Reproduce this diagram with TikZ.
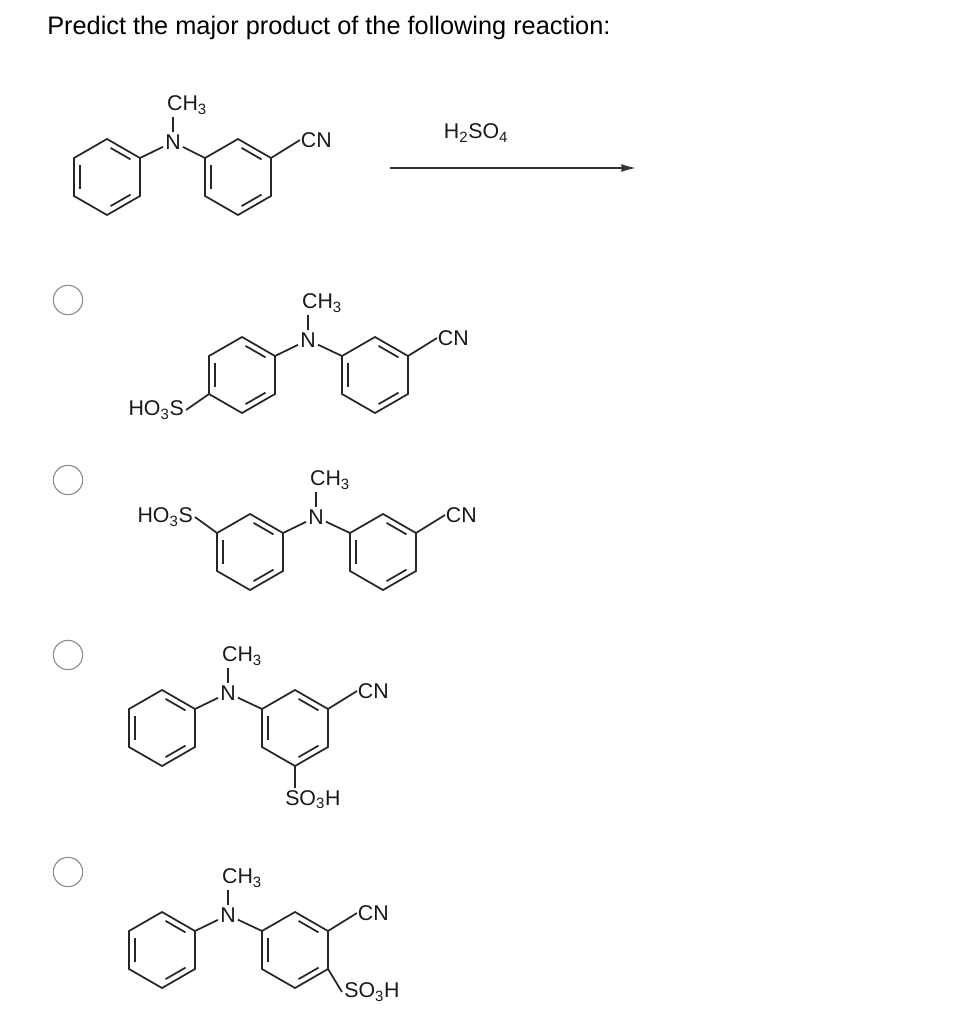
\documentclass[tikz,border=0pt]{standalone}
\usepackage{fontspec}
\setmainfont{Liberation Sans}
\usetikzlibrary{calc,arrows.meta}
\tikzset{
  bond/.style={draw=black!85,line width=1.3pt},
  lbl/.style={font=\fontsize{16}{18}\selectfont,inner sep=1.5pt,text=black!90},
  opt/.style={draw=black!45,line width=0.8pt,fill=white}
}
\newcommand{\sub}[1]{\textsubscript{#1}}
\newcommand{\benz}[3]{%
  \coordinate (#1c) at (#2,#3);
  \coordinate (#1t) at (#2,#3-38);
  \coordinate (#1ur) at (#2+33,#3-19);
  \coordinate (#1lr) at (#2+33,#3+19);
  \coordinate (#1b) at (#2,#3+38);
  \coordinate (#1ll) at (#2-33,#3+19);
  \coordinate (#1ul) at (#2-33,#3-19);
  \draw[bond] (#1t)--(#1ur)--(#1lr)--(#1b)--(#1ll)--(#1ul)--cycle;
  \foreach \p/\q in {t/ur,lr/b,ll/ul}{
    \draw[bond] ($ ($(#1c)!0.82!(#1\p)$)!0.13!($(#1c)!0.82!(#1\q)$) $) -- ($ ($(#1c)!0.82!(#1\q)$)!0.13!($(#1c)!0.82!(#1\p)$) $);}
}
\newcommand{\core}[4]{%
  \benz{#1a}{#2}{#3}
  \benz{#1b}{#4}{#3}
  \node[lbl] (#1N) at (#2+66,#3-35) {N};
  \node[lbl] (#1Me) at (#2+80,#3-72) {CH\sub{3}};
  \node[lbl,anchor=west,inner sep=0.5pt] (#1CN) at (#4+62,#3-37) {CN};
  \draw[bond] (#1aur) -- (#1N);
  \draw[bond] (#1N) -- (#1bul);
  \draw[bond] (#1N.north) -- (#1N.north |- #1Me.south);
  \draw[bond] (#1bur) -- (#1CN.west);
}
\begin{document}
\begin{tikzpicture}[x=0.75pt,y=-0.75pt]
\useasboundingbox (0,0) rectangle (960,1024);
\node[anchor=west,font=\fontsize{19}{22}\selectfont,inner sep=0] (title) at (47,28) {Predict the major product of the following reaction:};
\core{r}{107}{177}{238}
\coordinate (as) at (390,168); \coordinate (ae) at (636,168);
\draw[black!80,line width=1.3pt,-{Latex[length=11pt,width=6pt]}] (as) -- (ae);
\node[lbl] (h2so4) at (476,133) {H\sub{2}SO\sub{4}};
\node[opt,circle,minimum size=22pt,inner sep=0] (o1) at (68,300) {};
\node[opt,circle,minimum size=22pt,inner sep=0] (o2) at (68,480) {};
\node[opt,circle,minimum size=22pt,inner sep=0] (o3) at (68,655) {};
\node[opt,circle,minimum size=22pt,inner sep=0] (o4) at (68,872) {};
% option 1
\core{p}{242}{375}{375}
\node[lbl,anchor=east] (pS) at (186,410) {HO\sub{3}S};
\draw[bond] (pall) -- (pS.east);
% option 2
\core{q}{250}{552}{383}
\node[lbl,anchor=east] (qS) at (195,517) {HO\sub{3}S};
\draw[bond] (qaul) -- (qS.east);
% option 3
\core{s}{162}{728}{295}
\node[lbl,anchor=north west] (sS) at (283,788) {SO\sub{3}H};
\draw[bond] (sbb) -- ($(sbb)+(0,22)$) coordinate (ssb);
% option 4
\core{u}{162}{950}{295}
\node[lbl,anchor=west] (uS) at (342,992) {SO\sub{3}H};
\draw[bond] (ublr) -- (uS.west);
\end{tikzpicture}
\end{document}
